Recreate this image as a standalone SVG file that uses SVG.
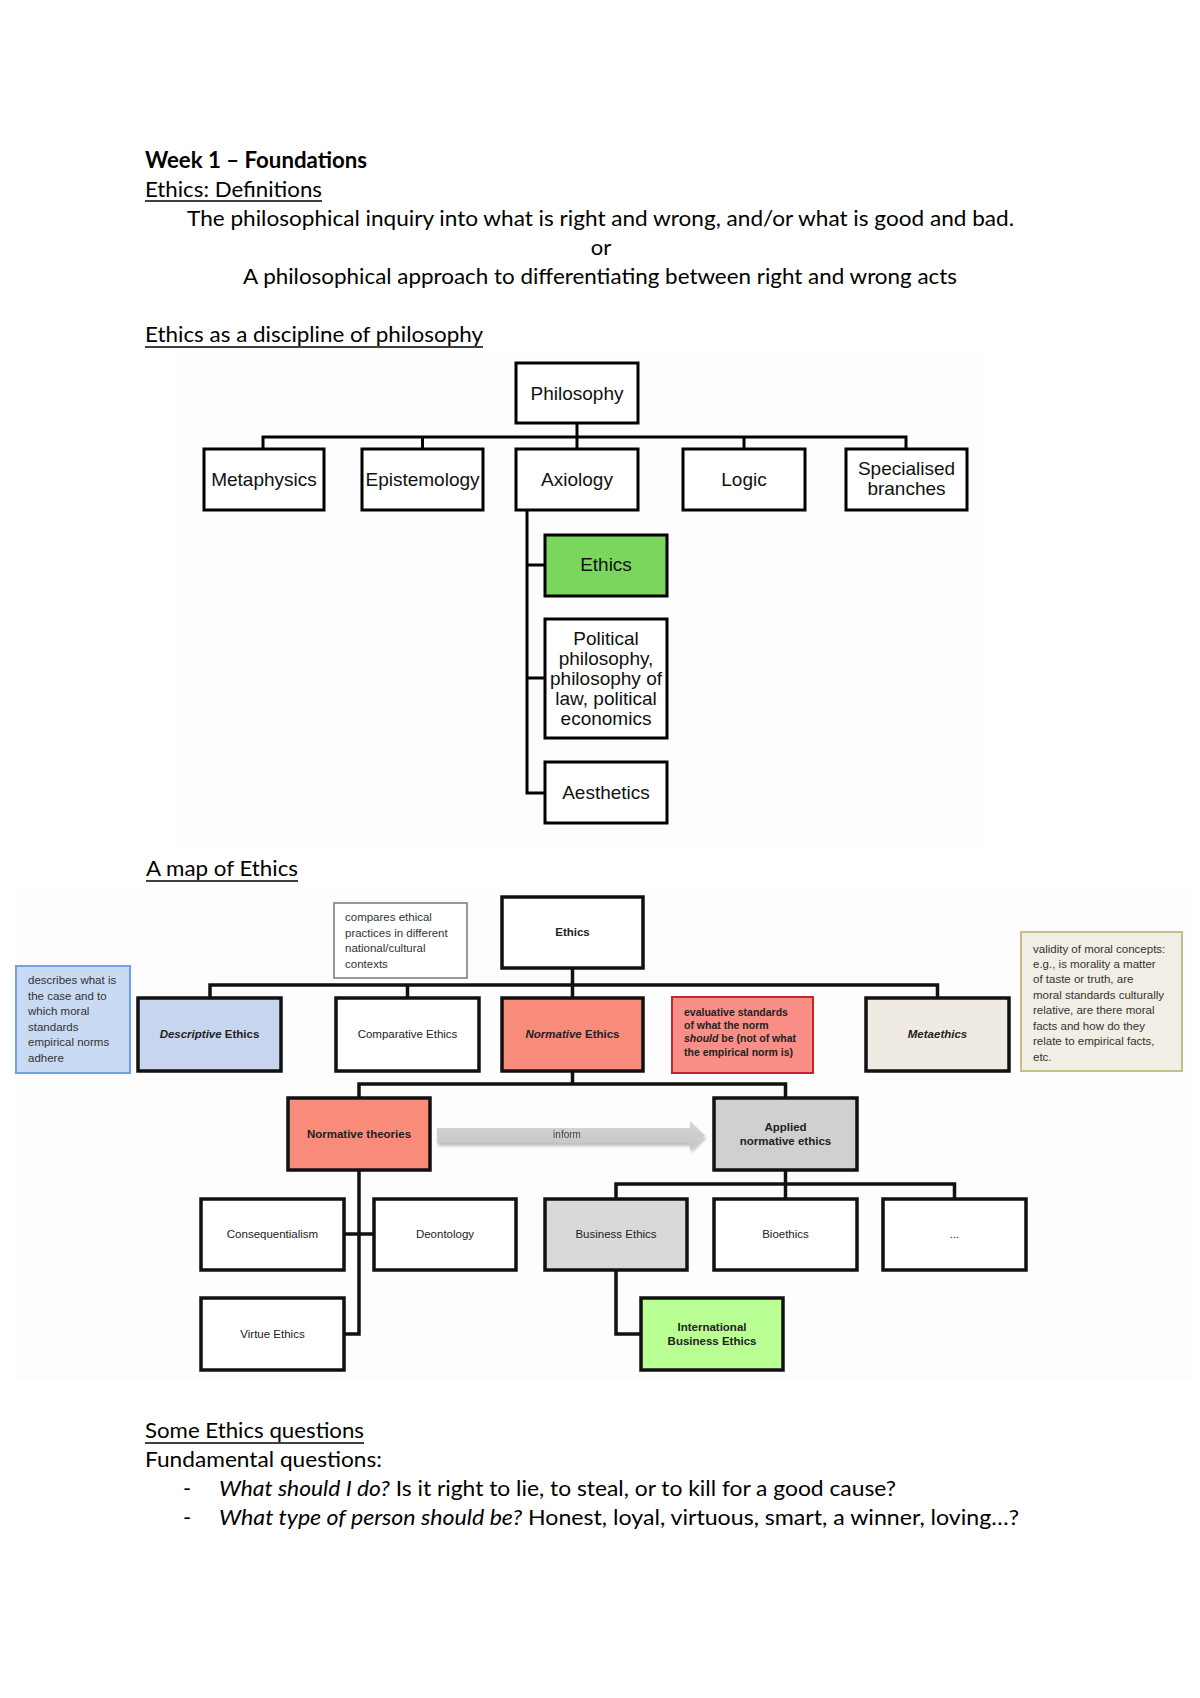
<svg xmlns="http://www.w3.org/2000/svg" width="1200" height="1698" viewBox="0 0 1200 1698">
<defs>
<style>
.body{font-family:Lato,"Open Sans","Liberation Sans",sans-serif;font-size:22px;fill:#000}
.b{font-weight:bold}
.it{font-style:italic}
.tb rect{stroke:#000;stroke-width:3;fill:#fff}
.tt{font-family:"Liberation Sans",Arial,sans-serif;font-size:19px;fill:#111;text-anchor:middle}
.mb rect{stroke:#111;stroke-width:3.5;fill:#fff}
.mt{font-family:"Liberation Sans",Arial,sans-serif;font-size:11.5px;fill:#222;text-anchor:middle}
.nt{font-family:"Liberation Sans",Arial,sans-serif;font-size:11.5px;fill:#333}
.con{fill:none;stroke:#000;stroke-width:3;stroke-linejoin:miter}
.con2{fill:none;stroke:#111;stroke-width:3.5;stroke-linejoin:miter}
</style>
<linearGradient id="ag" x1="0" y1="0" x2="0" y2="1">
<stop offset="0" stop-color="#d6d6d6"/>
<stop offset="1" stop-color="#c4c4c4"/>
</linearGradient>
<filter id="sh" x="-10%" y="-50%" width="120%" height="200%">
<feGaussianBlur in="SourceAlpha" stdDeviation="1.5"/>
<feOffset dx="1" dy="3" result="o"/>
<feComponentTransfer><feFuncA type="linear" slope="0.25"/></feComponentTransfer>
<feMerge><feMergeNode/><feMergeNode in="SourceGraphic"/></feMerge>
</filter>
</defs>
<rect width="1200" height="1698" fill="#fff"/>

<!-- Header text -->
<g id="header">
<text class="body b" x="145" y="168" textLength="222" lengthAdjust="spacingAndGlyphs">Week 1 – Foundations</text>
<text class="body" x="145" y="197" textLength="177" lengthAdjust="spacingAndGlyphs">Ethics: Definitions</text>
<line x1="145" y1="201" x2="322" y2="201" stroke="#000" stroke-width="1.5"/>
<text class="body" x="187" y="226" textLength="827" lengthAdjust="spacingAndGlyphs">The philosophical inquiry into what is right and wrong, and/or what is good and bad.</text>
<text class="body" x="601" y="255" text-anchor="middle">or</text>
<text class="body" x="243" y="284" textLength="714" lengthAdjust="spacingAndGlyphs">A philosophical approach to differentiating between right and wrong acts</text>
<text class="body" x="145" y="342" textLength="338" lengthAdjust="spacingAndGlyphs">Ethics as a discipline of philosophy</text>
<line x1="145" y1="347" x2="483" y2="347" stroke="#000" stroke-width="1.5"/>
</g>

<!-- Philosophy tree background -->
<rect x="177" y="353" width="805" height="490" fill="#fdfdfd"/>

<g id="tree-connectors">
<path class="con" d="M577 423 V449 M263 449 V437 H906 V449 M422.5 437 V449 M744 437 V449"/>
<path class="con" d="M527 510 V793 H545 M527 565 H545 M527 678 H545"/>
</g>

<g id="philosophy" class="tb"><rect x="516" y="363" width="122" height="60"/><text class="tt" x="577" y="400">Philosophy</text></g>
<g id="metaphysics" class="tb"><rect x="204" y="449" width="120" height="61"/><text class="tt" x="264" y="486">Metaphysics</text></g>
<g id="epistemology" class="tb"><rect x="362" y="449" width="121" height="61"/><text class="tt" x="422.5" y="486">Epistemology</text></g>
<g id="axiology" class="tb"><rect x="516" y="449" width="122" height="61"/><text class="tt" x="577" y="486">Axiology</text></g>
<g id="logic" class="tb"><rect x="683" y="449" width="122" height="61"/><text class="tt" x="744" y="486">Logic</text></g>
<g id="specialised" class="tb"><rect x="846" y="449" width="121" height="61"/><text class="tt" x="906.5" y="475">Specialised</text><text class="tt" x="906.5" y="495">branches</text></g>
<g id="ethics-tree" class="tb"><rect x="545" y="535" width="122" height="61" style="fill:#7ad65c"/><text class="tt" x="606" y="571">Ethics</text></g>
<g id="political" class="tb"><rect x="545" y="619" width="122" height="119"/>
<text class="tt" x="606" y="645">Political</text>
<text class="tt" x="606" y="665">philosophy,</text>
<text class="tt" x="606" y="685">philosophy of</text>
<text class="tt" x="606" y="705">law, political</text>
<text class="tt" x="606" y="725">economics</text></g>
<g id="aesthetics" class="tb"><rect x="545" y="762" width="122" height="61"/><text class="tt" x="606" y="799">Aesthetics</text></g>

<!-- Map of ethics -->
<g id="map-title">
<text class="body" x="146" y="876" textLength="152" lengthAdjust="spacingAndGlyphs">A map of Ethics</text>
<line x1="146" y1="881" x2="298" y2="881" stroke="#000" stroke-width="1.5"/>
</g>
<rect x="15" y="893" width="1177" height="487" fill="#fdfdfd"/>

<g id="map-connectors">
<path class="con2" d="M572.5 968 V998 M210 998 V985 H937.5 V998 M407.5 985 V998"/>
<path class="con2" d="M572.5 1071 V1084 M359 1098 V1084 H785.5 V1098"/>
<path class="con2" d="M359 1170 V1334 H344 M344 1234 H374"/>
<path class="con2" d="M785.5 1170 V1199 M616 1199 V1184 H954.5 V1199"/>
<path class="con2" d="M616 1270 V1334 H641"/>
</g>

<g id="inform-arrow" filter="url(#sh)">
<path d="M437 1128 H690 V1121 L705 1135.5 L690 1150 V1143 H437 Z" fill="url(#ag)"/>
<text class="nt" x="567" y="1138" text-anchor="middle" style="font-size:10px;fill:#444">inform</text>
</g>

<g id="note-describes">
<rect x="16" y="966" width="114" height="107" fill="#c9daf5" stroke="#6fa0e8" stroke-width="2"/>
<text class="nt" x="28" y="984">describes what is</text>
<text class="nt" x="28" y="1000">the case and to</text>
<text class="nt" x="28" y="1015">which moral</text>
<text class="nt" x="28" y="1031">standards</text>
<text class="nt" x="28" y="1046">empirical norms</text>
<text class="nt" x="28" y="1062">adhere</text>
</g>

<g id="note-comparative">
<rect x="334" y="903" width="133" height="75" fill="#fff" stroke="#777" stroke-width="1.5"/>
<text class="nt" x="345" y="921">compares ethical</text>
<text class="nt" x="345" y="937">practices in different</text>
<text class="nt" x="345" y="952">national/cultural</text>
<text class="nt" x="345" y="968">contexts</text>
</g>

<g id="ethics-map" class="mb"><rect x="502" y="897" width="141" height="71"/><text class="mt b" x="572.5" y="936">Ethics</text></g>
<g id="descriptive" class="mb"><rect x="138" y="998" width="143" height="73" style="fill:#c7d5ee"/><text class="mt b" x="209.5" y="1038"><tspan class="it">Descriptive</tspan> Ethics</text></g>
<g id="comparative" class="mb"><rect x="336" y="998" width="143" height="73"/><text class="mt" x="407.5" y="1038">Comparative Ethics</text></g>
<g id="normative" class="mb"><rect x="502" y="998" width="141" height="73" style="fill:#f98b7b"/><text class="mt b" x="572.5" y="1038"><tspan class="it">Normative</tspan> Ethics</text></g>

<g id="note-evaluative">
<rect x="672" y="997" width="141" height="76" fill="#f88e85" stroke="#c0282d" stroke-width="2"/>
<text class="nt b" x="684" y="1016" style="font-size:10.5px;fill:#222">evaluative standards</text>
<text class="nt b" x="684" y="1029" style="font-size:10.5px;fill:#222">of what the norm</text>
<text class="nt b" x="684" y="1042" style="font-size:10.5px;fill:#222"><tspan class="it">should</tspan> be (not of what</text>
<text class="nt b" x="684" y="1056" style="font-size:10.5px;fill:#222">the empirical norm is)</text>
</g>

<g id="metaethics" class="mb"><rect x="866" y="998" width="143" height="73" style="fill:#efebe3"/><text class="mt b it" x="937.5" y="1038">Metaethics</text></g>

<g id="note-validity">
<rect x="1021" y="932" width="161" height="139" fill="#f1eee5" stroke="#c8bd8a" stroke-width="2"/>
<text class="nt" x="1033" y="953">validity of moral concepts:</text>
<text class="nt" x="1033" y="968">e.g., is morality a matter</text>
<text class="nt" x="1033" y="983">of taste or truth, are</text>
<text class="nt" x="1033" y="999">moral standards culturally</text>
<text class="nt" x="1033" y="1014">relative, are there moral</text>
<text class="nt" x="1033" y="1030">facts and how do they</text>
<text class="nt" x="1033" y="1045">relate to empirical facts,</text>
<text class="nt" x="1033" y="1061">etc.</text>
</g>

<g id="normative-theories" class="mb"><rect x="288" y="1098" width="142" height="72" style="fill:#f98b7b"/><text class="mt b" x="359" y="1138">Normative theories</text></g>
<g id="applied" class="mb"><rect x="714" y="1098" width="143" height="72" style="fill:#d0d0d0"/><text class="mt b" x="785.5" y="1131">Applied</text><text class="mt b" x="785.5" y="1145">normative ethics</text></g>
<g id="consequentialism" class="mb"><rect x="201" y="1199" width="143" height="71"/><text class="mt" x="272.5" y="1238">Consequentialism</text></g>
<g id="deontology" class="mb"><rect x="374" y="1199" width="142" height="71"/><text class="mt" x="445" y="1238">Deontology</text></g>
<g id="business" class="mb"><rect x="545" y="1199" width="142" height="71" style="fill:#d9d9d9"/><text class="mt" x="616" y="1238">Business Ethics</text></g>
<g id="bioethics" class="mb"><rect x="714" y="1199" width="143" height="71"/><text class="mt" x="785.5" y="1238">Bioethics</text></g>
<g id="more" class="mb"><rect x="883" y="1199" width="143" height="71"/><text class="mt" x="954.5" y="1238">...</text></g>
<g id="virtue" class="mb"><rect x="201" y="1298" width="143" height="72"/><text class="mt" x="272.5" y="1338">Virtue Ethics</text></g>
<g id="international" class="mb"><rect x="641" y="1298" width="142" height="72" style="fill:#b9ff94"/><text class="mt b" x="712" y="1331">International</text><text class="mt b" x="712" y="1345">Business Ethics</text></g>

<!-- Questions -->
<g id="questions">
<text class="body" x="145" y="1438" textLength="219" lengthAdjust="spacingAndGlyphs">Some Ethics questions</text>
<line x1="145" y1="1443" x2="364" y2="1443" stroke="#000" stroke-width="1.5"/>
<text class="body" x="145" y="1467" textLength="237" lengthAdjust="spacingAndGlyphs">Fundamental questions:</text>
<text class="body" x="183" y="1496">-</text>
<text class="body" x="219" y="1496" textLength="677" lengthAdjust="spacingAndGlyphs"><tspan class="it">What should I do?</tspan> Is it right to lie, to steal, or to kill for a good cause?</text>
<text class="body" x="183" y="1525">-</text>
<text class="body" x="219" y="1525" textLength="800" lengthAdjust="spacingAndGlyphs"><tspan class="it">What type of person should be?</tspan> Honest, loyal, virtuous, smart, a winner, loving…?</text>
</g>
</svg>
